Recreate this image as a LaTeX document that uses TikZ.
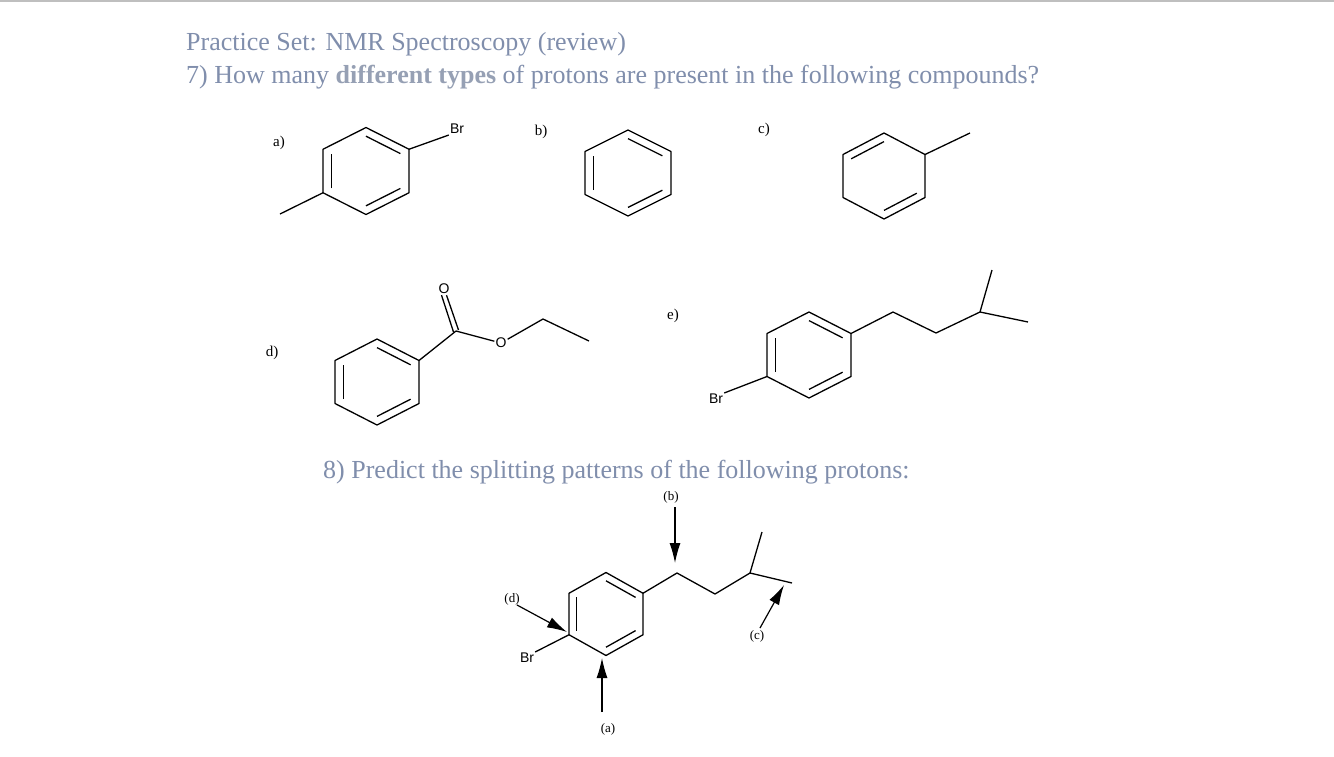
\documentclass[tikz,border=0pt]{standalone}
\usepackage{fontspec}
\setmainfont{Liberation Serif}
\newfontfamily\brfont{Liberation Sans}
\usetikzlibrary{calc,arrows.meta}
\definecolor{ttl}{RGB}{128,142,172}
\definecolor{ttlb}{RGB}{150,160,180}
\newcommand\ring[5]{%
 \coordinate (#1c) at (#2,#3);
 \coordinate (#1-1) at (#2,{#3-#5});
 \coordinate (#1-2) at ({#2+#4},{#3-#5/2});
 \coordinate (#1-3) at ({#2+#4},{#3+#5/2});
 \coordinate (#1-4) at (#2,{#3+#5});
 \coordinate (#1-5) at ({#2-#4},{#3+#5/2});
 \coordinate (#1-6) at ({#2-#4},{#3-#5/2});
 \draw[bond] (#1-1)--(#1-2)--(#1-3)--(#1-4)--(#1-5)--(#1-6)--cycle;}
\newcommand\dbl[3]{\draw[bond] ($(#1c)!0.8!(#1-#2)$) -- ($(#1c)!0.8!(#1-#3)$);}
\begin{document}
\begin{tikzpicture}[x=1pt,y=-1pt,
 bond/.style={line width=1.3pt,line join=round},
 lbl/.style={font=\fontsize{15}{15}\selectfont,inner sep=0pt},
 sml/.style={font=\fontsize{13}{13}\selectfont,inner sep=0pt},
 atom/.style={font=\brfont\fontsize{14}{14}\selectfont,inner sep=1pt},
 ptr/.style={line width=1.2pt,-{Latex[length=20pt,width=11pt]}}]
\useasboundingbox (0,0) rectangle (1334,756);
\fill[white] (0,0) rectangle (1334,756);
\draw[line width=1.5pt,black!25] (0,1)--(1334,1);
\node[anchor=base west,text=ttl,font=\fontsize{26}{26}\selectfont,inner sep=0pt] (t1) at (186,50) {Practice Set: NMR Spectroscopy (review)};
\node[anchor=base west,text=ttl,font=\fontsize{26}{26}\selectfont,inner sep=0pt] (t2) at (186,83) {7) How many \textcolor{ttlb}{\textbf{different types}} of protons are present in the following compounds?};
\node[anchor=base west,text=ttl,font=\fontsize{26}{26}\selectfont,inner sep=0pt] (t3) at (323,478) {8) Predict the splitting patterns of the following protons:};
% a
\ring{a}{366}{171}{43}{43.5}
\dbl{a}{1}{2}\dbl{a}{5}{6}\dbl{a}{3}{4}
\node[lbl] (la) at (279,143) {a)};
\node[atom] (abr) at (457,129) {Br};
\coordinate (ame) at (280,214);
\draw[bond] (a-2)--(abr.south west) (a-5)--(ame);
% b
\ring{b}{628}{173}{43}{43}
\dbl{b}{1}{2}\dbl{b}{5}{6}\dbl{b}{3}{4}
\node[lbl] (lb) at (541,132) {b)};
% c
\ring{c}{884}{176}{41}{43}
\dbl{c}{1}{6}\dbl{c}{3}{4}
\coordinate (cme) at (970,133);
\draw[bond] (c-2)--(cme);
\node[lbl] (lc) at (764,130) {c)};
% d
\ring{d}{377}{382}{42}{43}
\dbl{d}{1}{2}\dbl{d}{5}{6}\dbl{d}{3}{4}
\node[lbl] (ld) at (272,353) {d)};
\coordinate (dc) at (456,331);
\node[atom] (do1) at (444,289) {O};
\node[atom] (do2) at (501,343) {O};
\coordinate (dch2) at (543,319);
\coordinate (dch3) at (589,341);
\draw[bond] (d-2)--(dc) (dc)--(do2) (do2)--(dch2)--(dch3);
\draw[bond] ($(dc)+(-2.5,1)$)--($(do1.south)+(-2.5,0)$) ($(dc)+(2.5,-1)$)--($(do1.south)+(2.5,0)$);
% e
\ring{e}{809}{355}{42}{43}
\dbl{e}{1}{2}\dbl{e}{5}{6}\dbl{e}{3}{4}
\node[lbl] (le) at (673,316) {e)};
\coordinate (e1) at (893,312);
\coordinate (e2) at (936,333);
\coordinate (e3) at (980,312);
\coordinate (e4) at (992,270);
\coordinate (e5) at (1028,322);
\draw[bond] (e-2)--(e1)--(e2)--(e3)--(e4) (e3)--(e5);
\node[atom] (ebr) at (716,399) {Br};
\draw[bond] (e-5)--(ebr.north east);
% f (question 8)
\ring{f}{606}{614}{37}{41.5}
\dbl{f}{1}{2}\dbl{f}{5}{6}\dbl{f}{3}{4}
\coordinate (f1) at (677,573);
\coordinate (f2) at (715,594);
\coordinate (f3) at (750,573);
\coordinate (f4) at (762,532);
\coordinate (f5) at (792,583);
\draw[bond] (f-2)--(f1)--(f2)--(f3)--(f4) (f3)--(f5);
\node[atom] (fbr) at (527,658) {Br};
\draw[bond] (f-5)--(fbr.north east);
\node[sml] (pb) at (671,497) {(b)};
\node[sml] (pd) at (512,599) {(d)};
\node[sml] (pa) at (608,729) {(a)};
\node[sml] (pc) at (757,636) {(c)};
\coordinate (ab) at (675,563);
\coordinate (ad) at (567,632);
\coordinate (aa) at (602,658);
\coordinate (ac) at (784,585);
\draw[ptr] (pb.south)++(4,4) -- (ab);
\draw[ptr] (517,605) -- (ad);
\draw[ptr] (602,712) -- (aa);
\draw[ptr] (760,628) -- (ac);
\end{tikzpicture}
\end{document}
